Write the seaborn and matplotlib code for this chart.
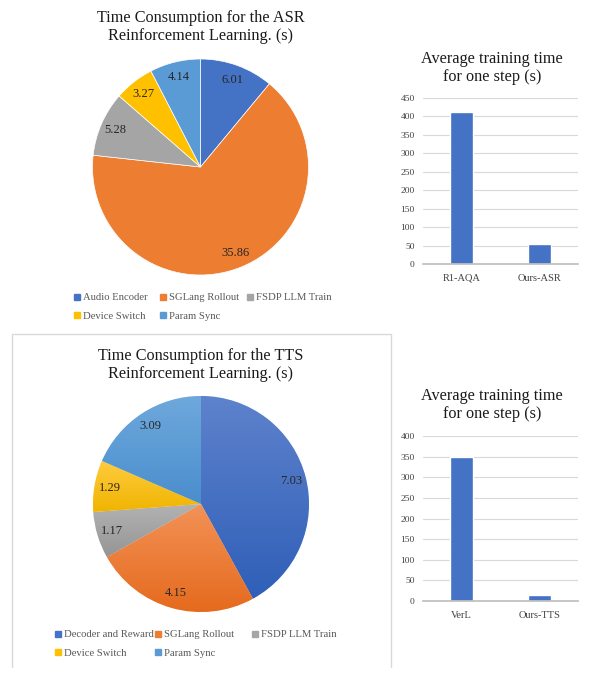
import numpy as np
import pandas as pd
import seaborn as sns
import matplotlib.pyplot as plt
from matplotlib.colors import to_rgb
from matplotlib.lines import Line2D

asr_parts = ['Audio Encoder', 'SGLang Rollout', 'FSDP LLM Train', 'Device Switch', 'Param Sync']
asr_times = [6.01, 35.86, 5.28, 3.27, 4.14]
tts_parts = ['Decoder and Reward', 'SGLang Rollout', 'FSDP LLM Train', 'Device Switch', 'Param Sync']
tts_times = [7.03, 4.15, 1.17, 1.29, 3.09]
asr_methods = ['R1-AQA', 'Ours-ASR']
asr_step = [411, 54]
tts_methods = ['VerL', 'Ours-TTS']
tts_step = [348, 15]

part_colors = ['#4472C4', '#ED7D31', '#A5A5A5', '#FFC000', '#5B9BD5']
# excel-ish gradient fill for the TTS pie (top -> bottom)
grad_top = ['#5E82CC', '#F39257', '#B3B3B3', '#FFCC40', '#6EA8DC']
grad_bot = ['#2F5FB8', '#E5691C', '#959595', '#F0B400', '#4A8ECD']

sns.set_theme(style='white')
plt.rcParams['font.family'] = ['Liberation Serif', 'DejaVu Serif']

W, H = 592, 694
fig = plt.figure(figsize=(W / 100, H / 100), dpi=100)


def px_axes(x0, y0, x1, y1):
    return fig.add_axes([x0 / W, 1 - y1 / H, (x1 - x0) / W, (y1 - y0) / H])


def pie_panel(cx, cy, r, times, parts, title, ty, col_x, leg_y, gradient=False):
    ax = px_axes(cx - r, cy - r, cx + r, cy + r)
    wedges, texts = ax.pie(times, colors=part_colors, startangle=90, counterclock=False,
                           labels=[f'{t:.2f}' for t in times], labeldistance=0.86,
                           wedgeprops=dict(linewidth=0.5, edgecolor='white'),
                           textprops=dict(fontsize=9, color='#262626'))
    for t in texts:
        t.set_ha('center')
        t.set_va('center')
        t.set_zorder(5)
    if gradient:
        for w, c0, c1 in zip(wedges, grad_top, grad_bot):
            v = w.get_path().vertices
            x0, y0 = v.min(0)
            x1, y1 = v.max(0)
            f = np.linspace(0, 1, 64)[:, None, None]
            img = np.array(to_rgb(c0))[None, None, :] * (1 - f) + np.array(to_rgb(c1))[None, None, :] * f
            im = ax.imshow(img, extent=[x0, x1, y0, y1], origin='upper', aspect='auto',
                           interpolation='bilinear', zorder=1.5)
            im.set_clip_path(w)
    ax.set_xlim(-1.0, 1.0)
    ax.set_ylim(-1.0, 1.0)
    ax.set_aspect('auto')
    ax.axis('off')
    fig.text(cx / W, 1 - ty / H, title, ha='center', va='center', fontsize=11.7,
             color='#1a1a1a', linespacing=1.15)
    # excel lays legend entries out in equal-width columns, row by row
    handles = [Line2D([], [], marker='s', ls='', color=c, markersize=4.5) for c in part_colors]
    for j, x in enumerate(col_x):
        idx = [i for i in (j, j + 3) if i < len(parts)]
        fig.legend([handles[i] for i in idx], [parts[i] for i in idx], ncol=1, frameon=False,
                   loc='upper left', bbox_to_anchor=((x - 3.7) / W, 1 - leg_y / H),
                   fontsize=7.7, labelcolor='#595959', handlelength=0.7, handletextpad=0.25,
                   borderpad=0, borderaxespad=0, labelspacing=0.85)


def bar_panel(box, methods, vals, ymax, title_x, title_y):
    ax = px_axes(*box)
    df = pd.DataFrame({'method': methods, 'time': vals})
    sns.barplot(data=df, x='method', y='time', color='#4472C4', saturation=1, width=0.3, ax=ax)
    ax.set_ylim(0, ymax)
    ax.set_yticks(range(0, ymax + 1, 50))
    ax.yaxis.grid(True, color='#D9D9D9', lw=0.8)
    ax.set_axisbelow(True)
    for s in ['top', 'right', 'left']:
        ax.spines[s].set_visible(False)
    ax.spines['bottom'].set_color('#BFBFBF')
    ax.tick_params(axis='y', length=0, labelsize=6.8, labelcolor='#404040', pad=6)
    ax.tick_params(axis='x', length=0, labelsize=7.5, labelcolor='#404040', pad=7)
    ax.set_xlabel('')
    ax.set_ylabel('')
    fig.text(title_x / W, 1 - title_y / H, 'Average training time\nfor one step (s)',
             ha='center', va='center', fontsize=11.7, color='#1a1a1a', linespacing=1.15)


pie_panel(200.5, 167, 108, asr_times, asr_parts,
          'Time Consumption for the ASR\nReinforcement Learning. (s)', 27, [77, 163, 250], 293)
bar_panel((423, 98, 578, 264), asr_methods, asr_step, 450, 492, 68)

pie_panel(201, 504, 108, tts_times, tts_parts,
          'Time Consumption for the TTS\nReinforcement Learning. (s)', 365, [58, 158, 255], 630,
          gradient=True)
bar_panel((423, 436, 578, 601), tts_methods, tts_step, 400, 492, 405)

# light frame around the TTS pie panel
fig.add_artist(Line2D([12 / W, 12 / W, 391 / W, 391 / W],
                      [1 - 667 / H, 1 - 334 / H, 1 - 334 / H, 1 - 667 / H],
                      color='#D9D9D9', lw=1, transform=fig.transFigure))

fig.savefig('out.png', dpi=100, facecolor='white')
